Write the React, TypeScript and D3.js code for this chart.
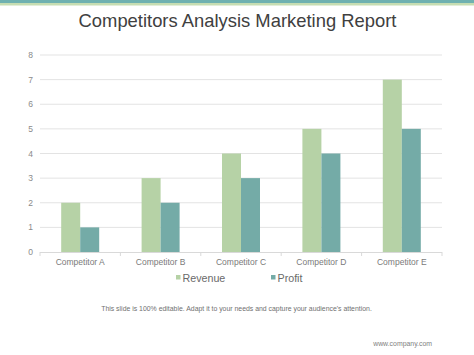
import React from "react";
import * as d3 from "d3";

const categories = ["Competitor A", "Competitor B", "Competitor C", "Competitor D", "Competitor E"];
const revenue = [2, 3, 4, 5, 7];
const profit = [1, 2, 3, 4, 5];
const seriesNames = ["Revenue", "Profit"];
const yTicks = [0, 1, 2, 3, 4, 5, 6, 7, 8];

const W = 474, H = 355;
const colors = ["#b6d2a6", "#74aba7"];
const font = "Liberation Sans, Arial, sans-serif";

export default function App() {
  const left = 40, right = 442, top = 55, bottom = 252;
  const x = d3.scaleBand<string>().domain(categories).range([left, right]);
  const y = d3.scaleLinear().domain([0, 8]).range([bottom, top]);
  const barW = 19;
  const series = [revenue, profit];
  const legendX = [176, 271];
  return (
    <svg width={W} height={H} style={{ position: "absolute", left: 0, top: 0, background: "#fff" }}>
      <rect x={0} y={0} width={W} height={3} fill="#6fb1b0" />
      <rect x={0} y={3} width={W} height={2.5} fill="#c6ddb2" />
      <text x={237.5} y={27} textAnchor="middle" fontFamily={font} fontSize={18.4} fill="#404040">
        Competitors Analysis Marketing Report
      </text>
      {yTicks.map((t) => (
        <g key={t}>
          {t > 0 && <line x1={left} x2={right} y1={y(t)} y2={y(t)} stroke="#e3e3e3" strokeWidth={1} />}
          <text x={33} y={y(t) + 3} textAnchor="end" fontFamily={font} fontSize={8.5} fill="#8a8a8a">{t}</text>
        </g>
      ))}
      {series.map((vals, si) =>
        vals.map((v, i) => {
          const cx = x(categories[i])! + x.bandwidth() / 2;
          const bx = cx - barW + si * barW;
          return <rect key={si + "-" + i} x={bx} y={y(v)} width={barW} height={y(0) - y(v)} fill={colors[si]} />;
        })
      )}
      <line x1={left} x2={right} y1={bottom + 0.5} y2={bottom + 0.5} stroke="#d9d9d9" />
      {categories.map((c, i) => (
        <line key={"t" + i} x1={x(c)!} x2={x(c)!} y1={bottom} y2={bottom + 4} stroke="#d9d9d9" />
      ))}
      <line x1={right} x2={right} y1={bottom} y2={bottom + 4} stroke="#d9d9d9" />
      {categories.map((c) => (
        <text key={c} x={x(c)! + x.bandwidth() / 2} y={265} textAnchor="middle" fontFamily={font} fontSize={8.5} fill="#7a7a7a">{c}</text>
      ))}
      {seriesNames.map((s, i) => {
        const lx = legendX[i];
        return (
          <g key={s}>
            <rect x={lx} y={275} width={4.5} height={4.5} fill={colors[i]} />
            <text x={lx + 6.5} y={281.5} fontFamily={font} fontSize={10.7} fill="#6a6a6a">{s}</text>
          </g>
        );
      })}
      <text x={236.5} y={311} textAnchor="middle" fontFamily={font} fontSize={6.9} fill="#707070">
        This slide is 100% editable. Adapt it to your needs and capture your audience's attention.
      </text>
      <text x={432} y={346} textAnchor="end" fontFamily={font} fontSize={6.9} fill="#808080">www.company.com</text>
    </svg>
  );
}
